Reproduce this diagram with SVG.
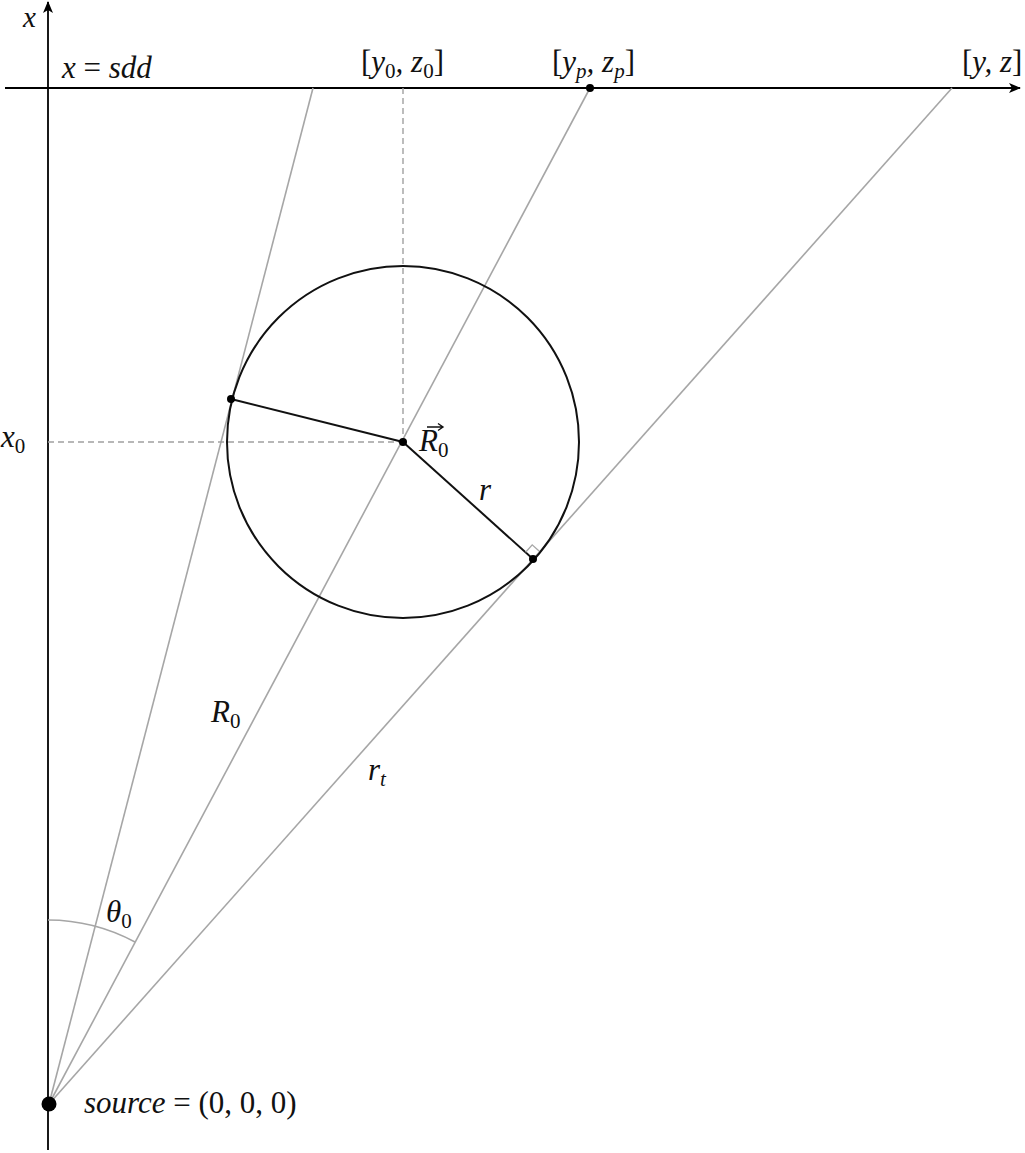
<svg xmlns="http://www.w3.org/2000/svg" width="1025" height="1153" viewBox="0 0 1025 1153">
<style>
.ax{stroke:#000;stroke-width:1.8;fill:none}
.ray{stroke:#a6a6a6;stroke-width:1.6;fill:none}
.dash{stroke:#a0a0a0;stroke-width:1.4;stroke-dasharray:6 4;fill:none}
.blk{stroke:#111;stroke-width:2;fill:none}
.m{font-family:"Liberation Serif",serif;font-style:italic;font-size:31px;fill:#111}
.n{font-family:"Liberation Serif",serif;font-style:normal}
.sub{font-size:21px}
</style>
<defs>
<marker id="arr" viewBox="0 0 12 10" refX="11" refY="5" markerWidth="12" markerHeight="10" markerUnits="userSpaceOnUse" orient="auto">
<path d="M0,0 L12,5 L0,10 L3,5 Z" fill="#000"/>
</marker>
</defs>
<rect width="1025" height="1153" fill="#fff"/>
<g id="connectors">
<line class="ax" x1="48" y1="1150" x2="48" y2="2" marker-end="url(#arr)"/>
<line class="ax" x1="5" y1="88" x2="1020" y2="88" marker-end="url(#arr)"/>
<line class="ray" x1="49" y1="1104" x2="313" y2="88"/>
<line class="ray" x1="49" y1="1104" x2="590" y2="88"/>
<line class="ray" x1="49" y1="1104" x2="952" y2="88"/>
<line class="dash" x1="403" y1="88" x2="403" y2="442"/>
<line class="dash" x1="48" y1="442" x2="403" y2="442"/>
<path class="ray" d="M48,920 A185,185 0 0 1 135,942"/>
<line class="blk" x1="403" y1="442" x2="231" y2="399"/>
<line class="blk" x1="403" y1="442" x2="533" y2="559"/>
<path class="ray" d="M539.6,551.5 L532.2,544.8 L525.6,552.3" style="stroke-width:1.3"/>
</g>
<g id="circle"><circle class="blk" cx="403" cy="442" r="176"/></g>
<g id="points">
<circle cx="403" cy="442" r="4" fill="#000"/>
<circle cx="231" cy="399" r="4" fill="#000"/>
<circle cx="533" cy="559" r="4" fill="#000"/>
<circle cx="590" cy="88" r="4" fill="#000"/>
<circle cx="49" cy="1104" r="7.5" fill="#000"/>
</g>
<g id="labels">
<text class="m" x="23" y="27" style="font-size:29px">x</text>
<text class="m" x="62" y="78">x <tspan class="n">=</tspan> sdd</text>
<text class="m" x="361" y="72"><tspan class="n">[</tspan>y<tspan class="n sub" dy="6">0</tspan><tspan dy="-6">, z</tspan><tspan class="n sub" dy="6">0</tspan><tspan class="n" dy="-6">]</tspan></text>
<text class="m" x="552" y="72"><tspan class="n">[</tspan>y<tspan class="sub" dy="6">p</tspan><tspan dy="-6">, z</tspan><tspan class="sub" dy="6">p</tspan><tspan class="n" dy="-6">]</tspan></text>
<text class="m" x="962" y="72"><tspan class="n">[</tspan>y, z<tspan class="n">]</tspan></text>
<text class="m" x="1" y="447">x<tspan class="n sub" dy="6">0</tspan></text>
<text class="m" x="419" y="451">R<tspan class="n sub" dy="6">0</tspan></text>
<path d="M427,427 L442,427 M438,423.5 L443,427 L438,430.5" stroke="#111" stroke-width="1.4" fill="none"/>
<text class="m" x="479" y="500">r</text>
<text class="m" x="211" y="722">R<tspan class="n sub" dy="6">0</tspan></text>
<text class="m" x="368" y="780">r<tspan class="sub" dy="6">t</tspan></text>
<text class="m" x="106" y="922">θ<tspan class="n sub" dy="6">0</tspan></text>
<text class="m" x="84" y="1113">source <tspan class="n">= (0, 0, 0)</tspan></text>
</g>
</svg>
